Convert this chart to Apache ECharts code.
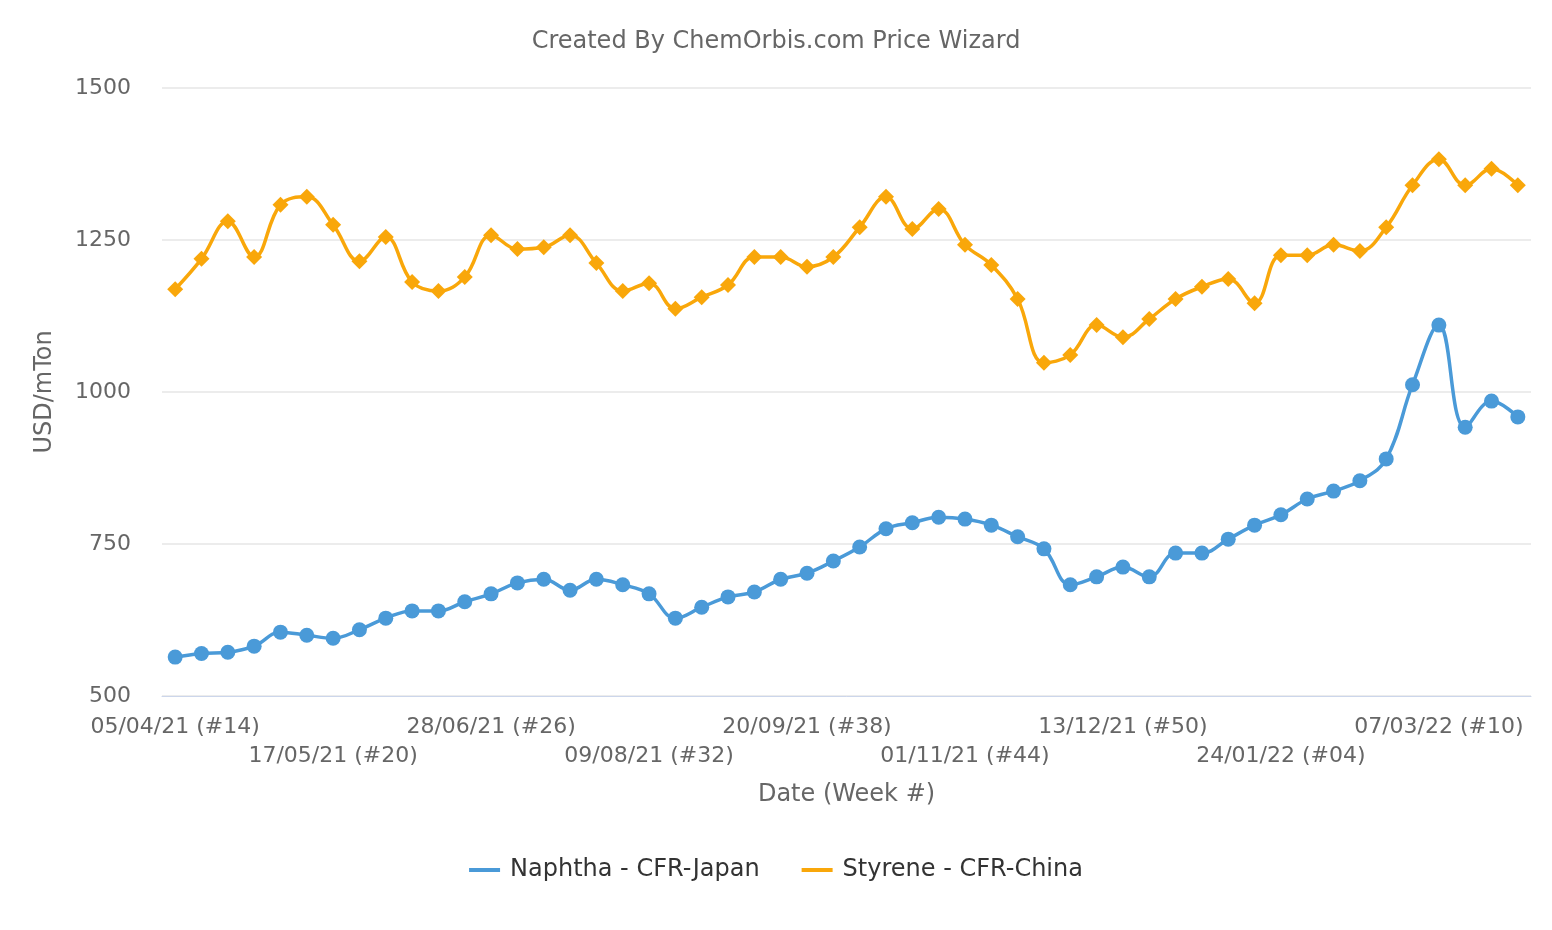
<!DOCTYPE html>
<html>
<head>
<meta charset="utf-8">
<script src="https://cdn.jsdelivr.net/npm/echarts@6/dist/echarts.min.js"></script>
<style>
  html, body { margin: 0; padding: 0; background: #fff; }
  #main { width: 1552px; height: 930px; }
</style>
</head>
<body>
<div id="main"></div>
<script>
// week labels, one per point
var weeks = [
  '05/04/21 (#14)', '12/04/21 (#15)', '19/04/21 (#16)', '26/04/21 (#17)', '03/05/21 (#18)', '10/05/21 (#19)',
  '17/05/21 (#20)', '24/05/21 (#21)', '31/05/21 (#22)', '07/06/21 (#23)', '14/06/21 (#24)', '21/06/21 (#25)',
  '28/06/21 (#26)', '05/07/21 (#27)', '12/07/21 (#28)', '19/07/21 (#29)', '26/07/21 (#30)', '02/08/21 (#31)',
  '09/08/21 (#32)', '16/08/21 (#33)', '23/08/21 (#34)', '30/08/21 (#35)', '06/09/21 (#36)', '13/09/21 (#37)',
  '20/09/21 (#38)', '27/09/21 (#39)', '04/10/21 (#40)', '11/10/21 (#41)', '18/10/21 (#42)', '25/10/21 (#43)',
  '01/11/21 (#44)', '08/11/21 (#45)', '15/11/21 (#46)', '22/11/21 (#47)', '29/11/21 (#48)', '06/12/21 (#49)',
  '13/12/21 (#50)', '20/12/21 (#51)', '27/12/21 (#52)', '03/01/22 (#01)', '10/01/22 (#02)', '17/01/22 (#03)',
  '24/01/22 (#04)', '31/01/22 (#05)', '07/02/22 (#06)', '14/02/22 (#07)', '21/02/22 (#08)', '28/02/22 (#09)',
  '07/03/22 (#10)', '14/03/22 (#11)', '21/03/22 (#12)', '28/03/22 (#13)'
];

var naphtha = [
  564, 570, 572, 582, 605, 600, 595, 609, 628, 640, 640, 655,
  668, 686, 692, 674, 692, 683, 668, 628, 646, 663, 671, 692,
  702, 722, 745, 775, 785, 794, 791, 781, 762, 742, 683, 696,
  712, 696, 735, 735, 758, 781, 798, 824, 837, 854, 890, 1012,
  1110, 942, 985, 959
];

var styrene = [
  1169, 1219, 1281, 1222, 1308, 1321, 1275, 1215, 1255, 1181, 1166, 1189,
  1258, 1235, 1238, 1258, 1212, 1166, 1179, 1137, 1156, 1176, 1222, 1222,
  1206, 1222, 1271, 1321, 1268, 1301, 1242, 1209, 1153, 1048, 1061, 1110,
  1090, 1120, 1153, 1173, 1186, 1146, 1225, 1225, 1242, 1232, 1271, 1340,
  1383, 1340, 1367, 1340
];

var chart = echarts.init(document.getElementById('main'));
var font = 'DejaVu Sans';

var labelBase = {
    color: '#666666',
    fontSize: 22,
    fontFamily: font,
    showMinLabel: true,
    showMaxLabel: true
};

var option = {
    animation: false,
    backgroundColor: '#ffffff',
    textStyle: { fontFamily: font },
    title: {
        text: 'Created By ChemOrbis.com Price Wizard',
        left: 'center',
        top: 25,
        textStyle: { color: '#666666', fontSize: 24, fontWeight: 'normal', fontFamily: font }
    },
    legend: {
        bottom: 43,
        left: 'center',
        itemGap: 42,
        itemWidth: 31,
        itemHeight: 4,
        icon: 'rect',
        textStyle: { color: '#333333', fontSize: 24, fontFamily: font, padding: [0, 0, 0, 5] },
        data: ['Naphtha - CFR-Japan', 'Styrene - CFR-China']
    },
    grid: { left: 162, right: 21, top: 88, bottom: 234 },
    xAxis: [
        {
            // first row of labels + axis name
            type: 'category',
            data: weeks,
            boundaryGap: true,
            name: 'Date (Week #)',
            nameLocation: 'middle',
            nameGap: 87,
            nameTextStyle: { color: '#666666', fontSize: 24, fontFamily: font },
            axisLine: { lineStyle: { color: '#ccd6eb', width: 1 } },
            axisTick: { show: false },
            axisLabel: Object.assign({}, labelBase, {
                margin: 20,
                interval: function (i) { return i % 12 === 0; }
            })
        },
        {
            // second, staggered row of labels
            type: 'category',
            data: weeks,
            boundaryGap: true,
            position: 'bottom',
            axisLine: { show: false },
            axisTick: { show: false },
            splitLine: { show: false },
            axisLabel: Object.assign({}, labelBase, {
                margin: 49,
                interval: function (i) { return i % 12 === 6; }
            })
        }
    ],
    yAxis: {
        type: 'value',
        min: 500,
        max: 1500,
        interval: 250,
        name: 'USD/mTon',
        nameLocation: 'middle',
        nameGap: 105,
        nameTextStyle: { color: '#666666', fontSize: 24, fontFamily: font },
        axisLine: { show: false },
        axisTick: { show: false },
        axisLabel: {
            color: '#666666', fontSize: 22, fontFamily: font, margin: 31,
            formatter: function (v) { return String(v); }
        },
        splitLine: { lineStyle: { color: '#e6e6e6', width: 1.5 } }
    },
    series: [
        {
            name: 'Naphtha - CFR-Japan',
            type: 'line',
            data: naphtha,
            smooth: 0.4,
            symbol: 'circle',
            symbolSize: 15,
            color: '#4a9ad8',
            lineStyle: { width: 3.5, color: '#4a9ad8' },
            itemStyle: { color: '#4a9ad8' }
        },
        {
            name: 'Styrene - CFR-China',
            type: 'line',
            data: styrene,
            smooth: 0.4,
            symbol: 'diamond',
            symbolSize: 16,
            color: '#f9a70a',
            lineStyle: { width: 3.5, color: '#f9a70a' },
            itemStyle: { color: '#f9a70a' }
        }
    ]
};

chart.setOption(option);
window.addEventListener('resize', function () { chart.resize(); });
</script>
</body>
</html>
